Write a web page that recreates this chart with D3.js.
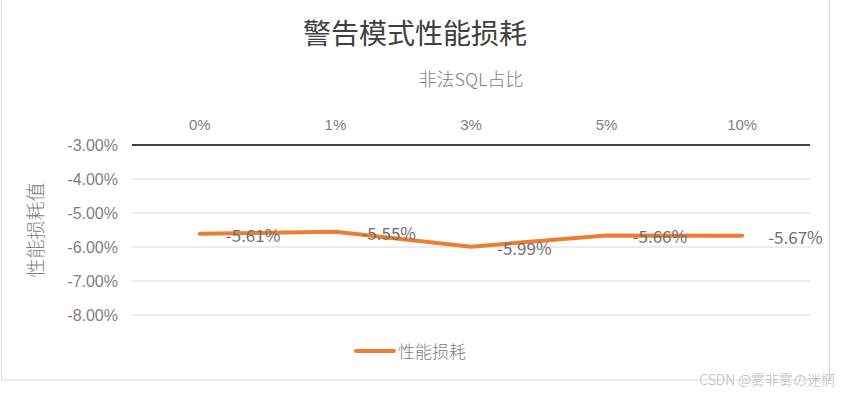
<!DOCTYPE html>
<html>
<head>
<meta charset="utf-8">
<script src="https://cdn.jsdelivr.net/npm/d3@7"></script>
<style>
  body { margin: 0; background: #fff; }
  text { font-family: "Liberation Sans Narrow", "Noto Sans CJK SC", sans-serif; }
  .cjk { font-family: "Noto Sans CJK SC", sans-serif; font-weight: 300; }
</style>
</head>
<body>
<div id="chart-area"></div>
<script>
// chart data
const categories = ["0%", "1%", "3%", "5%", "10%"];
const lossValues = [-5.61, -5.55, -5.99, -5.66, -5.67];
const yTicks = [-3, -4, -5, -6, -7, -8];
const seriesName = "性能损耗";

const W = 846, H = 395;
const margin = { top: 145, right: 36, bottom: 80, left: 132 };
const pct = d => d.toFixed(2) + "%";

const svg = d3.select("#chart-area").append("svg")
  .attr("width", W)
  .attr("height", H);

// outer chart border
svg.append("rect")
  .attr("x", 1.5).attr("y", -2)
  .attr("width", 828).attr("height", 382)
  .attr("fill", "none")
  .attr("stroke", "#d9d9d9")
  .attr("stroke-width", 1);

const x = d3.scaleBand()
  .domain(categories)
  .range([margin.left, W - margin.right]);

const y = d3.scaleLinear()
  .domain([-3, -8])
  .range([145, 315]);

// gridlines
svg.append("g")
  .selectAll("line")
  .data(yTicks.filter(d => d !== -3))
  .join("line")
  .attr("x1", x.range()[0]).attr("x2", x.range()[1])
  .attr("y1", d => y(d)).attr("y2", d => y(d))
  .attr("stroke", "#d9d9d9")
  .attr("stroke-width", 1);

// category axis sits on -3% (top)
svg.append("line")
  .attr("x1", x.range()[0]).attr("x2", x.range()[1])
  .attr("y1", y(-3)).attr("y2", y(-3))
  .attr("stroke", "#000")
  .attr("stroke-width", 1.5);

// y tick labels
const yAxis = d3.axisLeft(y)
  .tickValues(yTicks)
  .tickSize(0)
  .tickPadding(14)
  .tickFormat(pct);

svg.append("g")
  .attr("transform", `translate(${margin.left},0)`)
  .call(yAxis)
  .call(g => g.select(".domain").remove())
  .call(g => g.selectAll("text")
    .attr("fill", "#7f7f7f")
    .style("font-size", "16px")
    .style("font-family", "'Liberation Sans Narrow', sans-serif"));

// category labels above the plot
const xAxis = d3.axisTop(x).tickSize(0).tickPadding(0);
svg.append("g")
  .attr("transform", "translate(0,125)")
  .call(xAxis)
  .call(g => g.select(".domain").remove())
  .call(g => g.selectAll("text")
    .attr("fill", "#7f7f7f")
    .attr("dy", "0.35em")
    .style("font-size", "15px")
    .style("font-family", "'Liberation Sans Narrow', sans-serif"));

// title
svg.append("text")
  .attr("class", "cjk")
  .attr("x", 415).attr("y", 34)
  .attr("text-anchor", "middle")
  .attr("dy", "0.35em")
  .attr("fill", "#404040")
  .style("font-size", "28px")
  .style("font-weight", 400)
  .text("警告模式性能损耗");

// x axis title
svg.append("text")
  .attr("class", "cjk")
  .attr("x", (x.range()[0] + x.range()[1]) / 2).attr("y", 80)
  .attr("text-anchor", "middle")
  .attr("dy", "0.35em")
  .attr("fill", "#7f7f7f")
  .style("font-size", "18px")
  .text("非法SQL占比");

// y axis title
svg.append("text")
  .attr("class", "cjk")
  .attr("transform", "translate(36,230) rotate(-90)")
  .attr("text-anchor", "middle")
  .attr("dy", "0.35em")
  .attr("fill", "#7f7f7f")
  .style("font-size", "19px")
  .text("性能损耗值");

// series line
const line = d3.line()
  .x((d, i) => x(categories[i]) + x.bandwidth() / 2)
  .y(d => y(d));

svg.append("path")
  .datum(lossValues)
  .attr("d", line)
  .attr("fill", "none")
  .attr("stroke", "#ED7D31")
  .attr("stroke-width", 4)
  .attr("stroke-linecap", "round")
  .attr("stroke-linejoin", "round");

// data labels
svg.append("g")
  .selectAll("text")
  .data(lossValues)
  .join("text")
  .attr("x", (d, i) => x(categories[i]) + x.bandwidth() / 2 + 26)
  .attr("y", d => y(d) + 2)
  .attr("dy", "0.35em")
  .attr("fill", "#6f6f6f")
  .style("font-size", "17px")
  .text(pct);

// legend
svg.append("line")
  .attr("x1", 356).attr("x2", 394)
  .attr("y1", 351).attr("y2", 351)
  .attr("stroke", "#ED7D31")
  .attr("stroke-width", 4)
  .attr("stroke-linecap", "round");

svg.append("text")
  .attr("class", "cjk")
  .attr("x", 398).attr("y", 352)
  .attr("dy", "0.35em")
  .attr("fill", "#7f7f7f")
  .style("font-size", "17px")
  .text(seriesName);

// watermark
svg.append("text")
  .attr("class", "cjk")
  .attr("x", 835).attr("y", 380)
  .attr("text-anchor", "end")
  .attr("dy", "0.35em")
  .attr("fill", "#b8b8b8")
  .style("font-size", "14px")
  .text("CSDN @雾非雾の迷惘");
</script>
</body>
</html>
